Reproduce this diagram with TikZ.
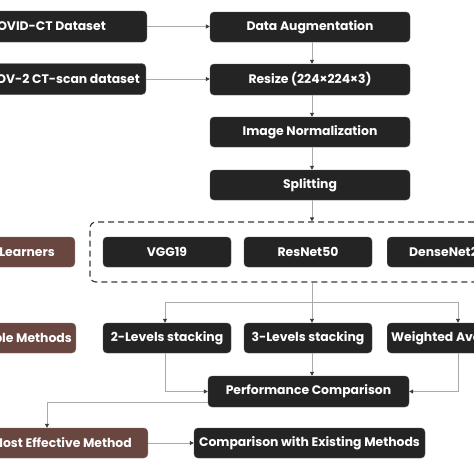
\documentclass[tikz,border=0pt]{standalone}
\usepackage{fontspec}
\setmainfont{Poppins}
\usetikzlibrary{arrows.meta,calc}
\definecolor{boxdark}{HTML}{242424}
\definecolor{boxbrown}{HTML}{6A4640}
\definecolor{linegray}{HTML}{AAAAAA}
\definecolor{tipgray}{HTML}{3A3A3A}
\tikzset{
  base/.style={rounded corners=4pt, text=white, font=\bfseries\fontsize{12.4}{14}\selectfont,
    minimum height=30pt, inner ysep=0pt, draw=#1!80!white, line width=0.4pt, fill=#1},
  dk/.style={base=boxdark},
  br/.style={base=boxbrown},
  conn/.style={draw=linegray, line width=0.9pt, -{Triangle[length=4pt,width=4pt,fill=tipgray,color=tipgray]}},
  plain/.style={draw=linegray, line width=0.9pt},
}
\begin{document}
\begin{tikzpicture}[x=1pt,y=-1pt]
\useasboundingbox (0,0) rectangle (474,474);
\clip (0,0) rectangle (474,474);
\fill[white] (0,0) rectangle (474,474);
% main column
\node[dk, minimum width=200pt] (da) at (310,27) {Data Augmentation};
\node[dk, minimum width=200pt, minimum height=31pt] (rs) at (310,79.5) {Resize (224×224×3)};
\node[dk, minimum width=200pt] (inorm) at (310,132) {Image Normalization};
\node[dk, minimum width=200pt] (sp) at (310,185) {Splitting};
% datasets
\node[dk, anchor=east, inner xsep=41pt, minimum height=31pt] (covid) at (147,26.5) {COVID-CT Dataset};
\node[dk, anchor=east, inner xsep=6pt, minimum height=31pt] (sars) at (146,79) {SARS-COV-2 CT-scan dataset};
% base learners
\node[draw=boxdark!90, dashed, dash pattern=on 6pt off 4pt, line width=1.2pt, rounded corners=6pt,
  minimum width=400pt, minimum height=60pt] (dbox) at (290,252) {};
\node[dk, minimum width=128pt] (vgg) at (167,252) {VGG19};
\node[dk, minimum width=128pt] (res) at (308,252) {ResNet50};
\node[dk, anchor=west, inner xsep=22pt] (dense) at (387,252) {DenseNet201};
\node[br, anchor=east, inner xsep=20pt] (bl) at (75,252) {Base Learners};
% ensemble
\node[dk, minimum width=128pt] (s2) at (167,338) {2-Levels stacking};
\node[dk, minimum width=128pt] (s3) at (308,338) {3-Levels stacking};
\node[dk, anchor=west, inner xsep=4pt] (wa) at (387,338) {Weighted Average};
\node[br, anchor=east, inner xsep=4pt] (ens) at (76,338) {Ensemble Methods};
% performance
\node[dk, minimum width=201pt, minimum height=31pt] (perf) at (308.5,391.5) {Performance Comparison};
\node[br, anchor=east, inner xsep=16pt] (most) at (148,443) {The Most Effective Method};
\node[dk, minimum width=231pt] (cmp) at (309.5,443) {Comparison with Existing Methods};
% connectors
\draw[conn] (covid.east) -- (covid.east -| da.west);
\draw[conn] (sars.east) -- (sars.east -| rs.west);
\coordinate (cx) at (312,0);
\draw[conn] (da.south -| cx) -- (rs.north -| cx);
\draw[conn] (rs.south -| cx) -- (inorm.north -| cx);
\draw[conn] (inorm.south -| cx) -- (sp.north -| cx);
\draw[conn] (sp.south -| cx) -- (dbox.north -| cx);
\coordinate (brl) at (165,302);
\coordinate (brr) at (458,302);
\draw[plain] (dbox.south -| cx) -- (cx |- brl);
\draw[plain] (brl) -- (brr);
\draw[conn] (brl) -- (brl |- s2.north);
\draw[conn] (cx |- brl) -- (cx |- s3.north);
\draw[conn] (brr) -- (brr |- wa.north);
\draw[conn] (brl |- s2.south) |- (perf.west);
\draw[conn] (cx |- s3.south) -- (cx |- perf.north);
\draw[conn] (brr |- wa.south) |- (perf.east);
\coordinate (pl) at ($(perf.south west)+(0,-5)$);
\coordinate (ml) at (47,0);
\draw[conn] (pl) -| (ml |- most.north);
\draw[conn] (most.east) -- (cmp.west);
\end{tikzpicture}
\end{document}
